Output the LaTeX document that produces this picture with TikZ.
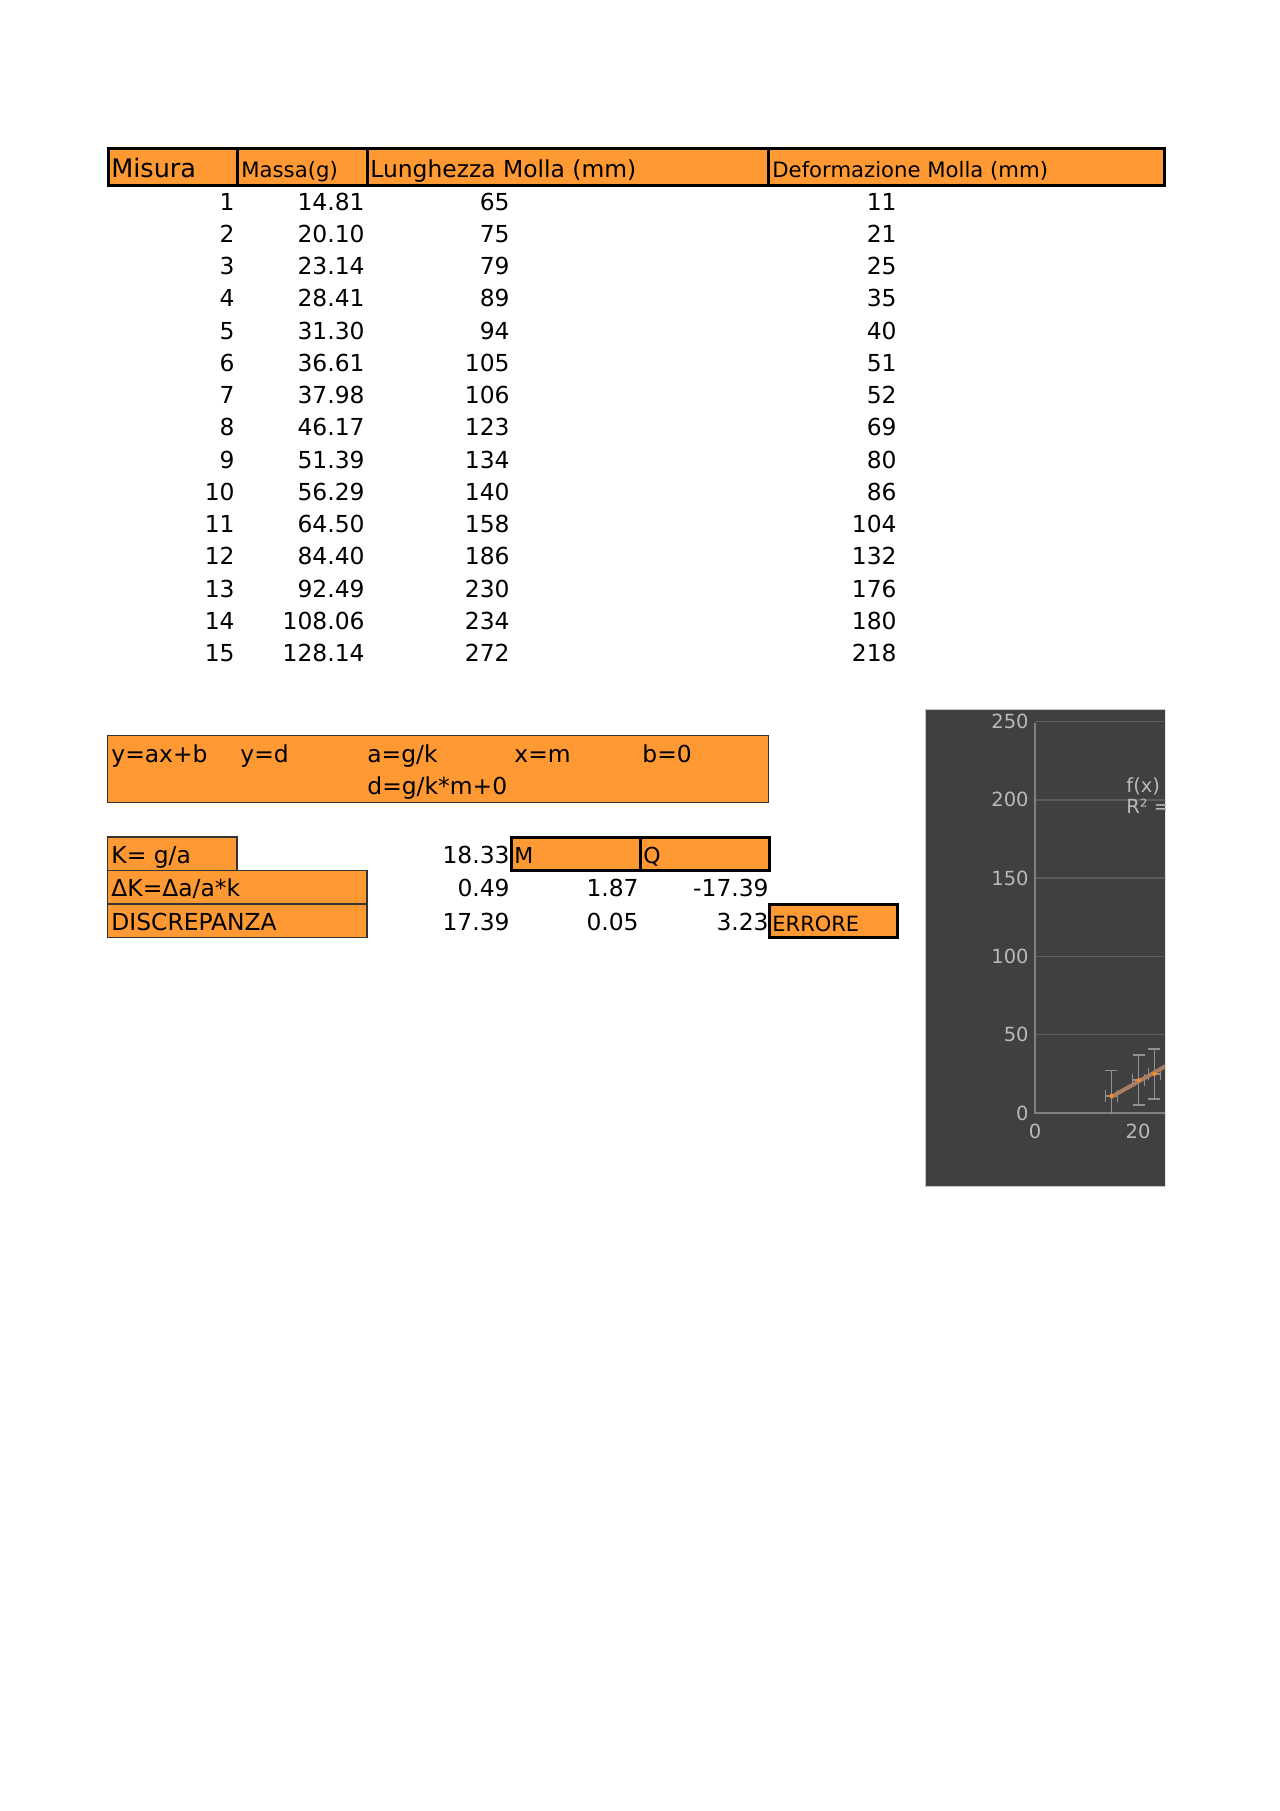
\documentclass[tikz,border=0pt]{standalone}
\usepackage{fontspec}
\setmainfont{DejaVu Sans}
\definecolor{cellorange}{RGB}{255,153,51}
\definecolor{chartbg}{RGB}{64,64,64}
\definecolor{gridc}{RGB}{92,92,92}
\definecolor{axisc}{RGB}{128,128,128}
\definecolor{labc}{RGB}{185,185,185}
\definecolor{errc}{RGB}{145,145,145}
\definecolor{trendc}{RGB}{170,124,96}
\definecolor{markc}{RGB}{255,140,30}
\begin{document}
\begin{tikzpicture}[x=0.5pt,y=-0.5pt,
  txt/.style={inner sep=0pt, font=\fontsize{11.7}{14}\selectfont},
  rt/.style={txt, anchor=base east},
  lt/.style={txt, anchor=base west},
  thickline/.style={draw=black, line width=1.5pt},
  thincell/.style={draw=black!80, line width=0.75pt, fill=cellorange},
  thickcell/.style={draw=black, line width=1.5pt, fill=cellorange},
  chartlab/.style={inner sep=0pt, text=labc, font=\fontsize{9.75}{11}\selectfont},
  errbar/.style={draw=errc, line width=0.75pt},
]
\fill[white] (0,0) rectangle (1280,1811);
\useasboundingbox (0,0) rectangle (1280,1811);

% ---------- header ----------
\fill[cellorange] (108,148) rectangle (1165,186);
\draw[thickline] (108.5,148.5) rectangle (1164.5,185.5);
\foreach \xx in {237,367,768} \draw[thickline] (\xx,148.5) -- (\xx,185.5);
\node[lt, font=\fontsize{12.75}{15}\selectfont] (hmis) at (111,177) {Misura};
\node[lt, font=\fontsize{10.6}{13}\selectfont] (hmas) at (241,177) {Massa(g)};
\node[lt] (hlun) at (370,177) {Lunghezza Molla (mm)};
\node[lt, font=\fontsize{10.6}{13}\selectfont] (hdef) at (772,177) {Deformazione Molla (mm)};

% ---------- data ----------
\foreach \n/\m/\l/\d [count=\i from 0] in {
  1/14.81/65/11, 2/20.10/75/21, 3/23.14/79/25, 4/28.41/89/35, 5/31.30/94/40,
  6/36.61/105/51, 7/37.98/106/52, 8/46.17/123/69, 9/51.39/134/80, 10/56.29/140/86,
  11/64.50/158/104, 12/84.40/186/132, 13/92.49/230/176, 14/108.06/234/180, 15/128.14/272/218} {
  \node[rt] (a\n) at (235,{210+32.25*\i}) {\n};
  \node[rt] (b\n) at (365,{210+32.25*\i}) {\m};
  \node[rt] (c\n) at (510,{210+32.25*\i}) {\l};
  \node[rt] (d\n) at (897,{210+32.25*\i}) {\d};
}

% ---------- formula box ----------
\draw[thincell] (107.5,735.5) rectangle (768.5,802.5);
\node[lt] (f1) at (111,762) {y=ax+b};
\node[lt] (f2) at (240,762) {y=d};
\node[lt] (f3) at (367,762) {a=g/k};
\node[lt] (f4) at (514,762) {x=m};
\node[lt] (f5) at (642,762) {b=0};
\node[lt] (f6) at (367,794) {d=g/k*m+0};

% ---------- K boxes ----------
\draw[thincell] (107.5,837) rectangle (237,870.5);
\draw[thincell] (107.5,870.5) rectangle (367,904);
\draw[thincell] (107.5,904) rectangle (367,937.5);
\node[lt] (k1) at (111,863) {K= g/a};
\node[lt] (k2) at (111,896) {ΔK=Δa/a*k};
\node[lt] (k3) at (111,930) {DISCREPANZA};
\node[rt] (v1) at (510,863) {18.33};
\node[rt] (v2) at (510,896) {0.49};
\node[rt] (v3) at (510,930) {17.39};

\draw[thickcell] (511,837) rectangle (640,870.5);
\draw[thickcell] (640,837) rectangle (769.5,870.5);
\node[lt, font=\fontsize{11}{13}\selectfont] (mh) at (514,863) {M};
\node[lt, font=\fontsize{11}{13}\selectfont] (qh) at (643,863) {Q};
\node[rt] (m1) at (639,896) {1.87};
\node[rt] (q1) at (769,896) {-17.39};
\node[rt] (m2) at (639,930) {0.05};
\node[rt] (q2) at (769,930) {3.23};
\draw[thickcell] (769.5,904.5) rectangle (897.5,937.5);
\node[lt, font=\fontsize{10.5}{13}\selectfont] (err) at (772,931) {ERRORE};

% ---------- chart ----------
\begin{scope}
  \clip (925,709) rectangle (1165,1187);
  \fill[chartbg] (925,709) rectangle (1170,1187);
  \draw[gray!45, line width=0.5pt] (925.5,709.5) rectangle (1175,1186.5);
  \foreach \v in {50,100,150,200,250}
    \draw[gridc, line width=0.75pt] (1035,{1113-1.566*\v}) -- (1175,{1113-1.566*\v});
  \draw[axisc, line width=0.75pt] (1035,723) -- (1035,1113) -- (1175,1113);
  \foreach \v in {0,50,100,150,200,250}
    \node[chartlab, anchor=east] (yl\v) at (1029,{1113-1.566*\v}) {\v};
  \node[chartlab, anchor=center] (xl0) at (1035,1131) {0};
  \node[chartlab, anchor=center] (xl20) at (1138,1131) {20};
  \node[chartlab, anchor=base west] (fx) at (1126,792) {f(x)};
  \node[chartlab, anchor=base west] (r2) at (1126,813) {R² =};
  \begin{scope}
    \clip (1035,723) rectangle (1165,1113);
    \foreach \m/\d in {14.81/11, 20.10/21, 23.14/25, 28.41/35, 31.30/40} {
      \pgfmathsetmacro{\px}{1035+5.16*\m}
      \pgfmathsetmacro{\py}{1113-1.566*\d}
      \pgfmathsetmacro{\ptop}{\py-1.566*16}
      \pgfmathsetmacro{\pbot}{\py+1.566*16}
      \draw[errbar] (\px,\ptop) -- (\px,\pbot);
      \draw[errbar] ({\px-6},\ptop) -- ({\px+6},\ptop);
      \draw[errbar] ({\px-6},\pbot) -- ({\px+6},\pbot);
      \draw[errbar] ({\px-6},\py) -- ({\px+6},\py);
      \draw[errbar] ({\px-6},{\py-6}) -- ({\px-6},{\py+6});
      \draw[errbar] ({\px+6},{\py-6}) -- ({\px+6},{\py+6});
    }
    \draw[trendc, line width=2pt, line cap=round]
      ({1035+5.16*14.81},{1113-1.566*(1.87*14.81-17.39)}) --
      ({1035+5.16*40},{1113-1.566*(1.87*40-17.39)});
    \foreach \m/\d in {14.81/11, 20.10/21, 23.14/25, 28.41/35}
      \fill[markc] ({1035+5.16*\m},{1113-1.566*\d}) circle (2);
  \end{scope}
\end{scope}
\end{tikzpicture}
\end{document}
